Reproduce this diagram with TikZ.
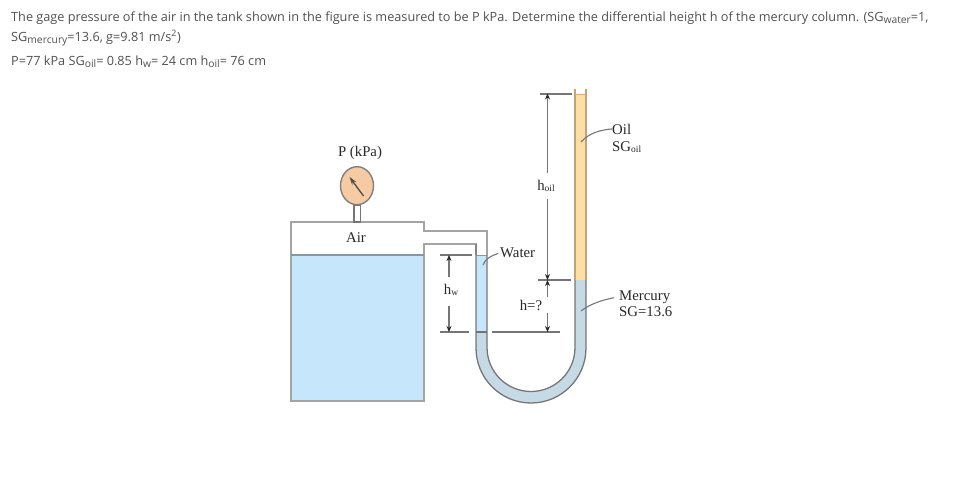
\documentclass[tikz,border=0pt]{standalone}
\usepackage{fontspec}
\setmainfont{Liberation Serif}
\newfontfamily\opensansfont{Open Sans}
\usetikzlibrary{arrows.meta,shapes.geometric}
\definecolor{wallgray}{HTML}{A4A4A4}
\definecolor{dimgray}{HTML}{767676}
\definecolor{waterblue}{HTML}{C6E7FB}
\definecolor{mercuryblue}{HTML}{C6DAE6}
\definecolor{oilyellow}{HTML}{FBDFA3}
\definecolor{gaugefill}{HTML}{F6CBA4}
\definecolor{oiledge}{HTML}{C4A27C}
\definecolor{bodytext}{HTML}{505050}
\definecolor{figtext}{HTML}{282828}
\newcommand{\sbs}[1]{\raisebox{-0.3ex}{\fontsize{10.3}{11}\selectfont #1}}
\newcommand{\smallsub}[1]{\raisebox{-0.2ex}{\fontsize{9.5}{10}\selectfont #1}}
\tikzset{
  bodyline/.style={anchor=base west,inner sep=0pt,text=bodytext,font=\opensansfont\fontsize{12.7}{15}\selectfont},
  figlabel/.style={inner sep=0pt,text=figtext,font=\fontsize{14.8}{16}\selectfont},
  wall/.style={draw=wallgray,line width=1.9pt},
  tubewall/.style={draw=dimgray,line width=1.3pt},
  dimline/.style={draw=dimgray,line width=1.8pt},
  dimtick/.style={draw=dimgray,line width=2pt},
  dimarrow/.style={dimline,-{Stealth[length=6pt,width=5pt,color=black!85]}},
  leader/.style={draw=dimgray,line width=1.1pt},
}
\begin{document}
\begin{tikzpicture}[x=1pt,y=-1pt]
\useasboundingbox (0,0) rectangle (956,479);
% problem text
\node[bodyline] (line1) at (11,21) {The gage pressure of the air in the tank shown in the figure is measured to be P kPa. Determine the differential height h of the mercury column. (SG\sbs{water}=1,};
\node[bodyline] (line2) at (11,41) {SG\sbs{mercury}=13.6, g=9.81 m/s\textsuperscript{2})};
\node[bodyline] (line3) at (11,65) {P=77 kPa SG\sbs{oil}= 0.85 h\sbs{w}= 24 cm h\sbs{oil}= 76 cm};
% fluids
\fill[waterblue] (291,255) rectangle (424,401);
\fill[waterblue] (476,255) rectangle (487,332);
\fill[oilyellow] (575,94) rectangle (586,280);
\fill[mercuryblue] (476,332) -- (476,348) arc[start angle=180,end angle=360,radius=55pt] -- (586,280) -- (575,280) -- (575,347.5) arc[start angle=360,end angle=180,radius=44pt] -- (487,332) -- cycle;
% tank and connecting pipe
\draw[wall,line join=miter] (424,255) -- (424,244) -- (476,244) -- (476,255);
\draw[wall] (487,255) -- (487,231) -- (424,231) -- (424,222) -- (291,222) -- (291,401) -- (424,401) -- (424,255);
\draw[draw=black!30!waterblue!70!gray,line width=1.1pt] (291,255) -- (424,255);
\draw[draw=black!30!waterblue!70!gray,line width=0.8pt] (476,255) -- (487,255);
% U tube
\draw[tubewall] (476,244) -- (476,348) arc[start angle=180,end angle=360,radius=55pt] -- (586,280);
\draw[tubewall] (487,255) -- (487,347.5) arc[start angle=180,end angle=360,radius=44pt] -- (575,280);
\draw[draw=oiledge,line width=1.3pt] (575,280) -- (575,89) (586,280) -- (586,89);
\draw[draw=orange!60!brown!70,line width=0.9pt] (575,94) -- (586,94);
% gauge
\draw[draw=dimgray,line width=1.4pt,fill=white] (354,205) rectangle (360.5,222);
\node[draw=gray,line width=1.4pt,fill=gaugefill,ellipse,inner sep=0pt,
      minimum width=33pt,minimum height=38pt] (gauge) at (357,185.7) {};
\coordinate (needleA) at (363.5,196);
\coordinate (needleB) at (349.5,177);
\draw[draw=black!70,line width=1.3pt,-{Stealth[length=8pt,width=5pt]}] (needleA) -- (needleB);
% labels
\node[figlabel] (plabel) at (360,153) {P (kPa)};
\node[figlabel] (air) at (356,238) {Air};
\node[figlabel,anchor=base west] (water) at (500,257.5) {Water};
\node[figlabel,anchor=base west] (oil) at (612,134) {Oil};
\node[figlabel,anchor=base west] (sgoil) at (612,151) {SG\smallsub{oil}};
\node[figlabel,anchor=base west] (mercury) at (619,300) {Mercury};
\node[figlabel,anchor=base west] (sgm) at (619,316.5) {SG=13.6};
\node[figlabel,anchor=center] (hoil) at (546,186) {h\smallsub{oil}};
\node[figlabel,anchor=center] (hq) at (531,305) {h=?};
\node[figlabel,anchor=center] (hw) at (451,290) {h\smallsub{w}};
% leaders
\coordinate (oilpt) at (581,142);
\coordinate (waterpt) at (483,265);
\coordinate (merpt) at (581,311);
\draw[leader] (oilpt) .. controls (589,133) and (600,130) .. (oil.west);
\draw[leader,shorten >=2pt] (waterpt) .. controls (486,258) and (491,256) .. (water.west);
\draw[leader,shorten >=5pt] (merpt) .. controls (590,304) and (602,300) .. (mercury.west);
% dimension ticks
\coordinate (t1a) at (540,93.5); \coordinate (t1b) at (572,93.5);
\coordinate (t2a) at (538,280); \coordinate (t2b) at (571,280);
\coordinate (t3a) at (440,255); \coordinate (t3b) at (472,255);
\coordinate (t4a) at (440,332); \coordinate (t4b) at (469,332);
\coordinate (t5a) at (492,332); \coordinate (t5b) at (560,332);
\draw[dimtick] (t1a) -- (t1b);
\draw[dimtick] (t2a) -- (t2b);
\draw[dimtick] (t3a) -- (t3b);
\draw[dimtick] (t4a) -- (t4b);
\draw[dimtick] (t5a) -- (t5b);
\draw[dimtick,draw=black!55] (476,332) -- (487,332);
% dimension lines
\coordinate (oilup) at (547.5,93.5); \coordinate (oildown) at (547.5,280);
\coordinate (hup) at (547.5,280); \coordinate (hdown) at (547.5,332);
\coordinate (wup) at (449,255); \coordinate (wdown) at (449,332);
\draw[dimarrow] (547.5,173) -- (oilup);
\draw[dimarrow] (547.5,199) -- (oildown);
\draw[dimarrow] (547.5,297) -- (hup);
\draw[dimarrow] (547.5,313) -- (hdown);
\draw[dimarrow] (449,277) -- (wup);
\draw[dimarrow] (449,306) -- (wdown);
\end{tikzpicture}
\end{document}
